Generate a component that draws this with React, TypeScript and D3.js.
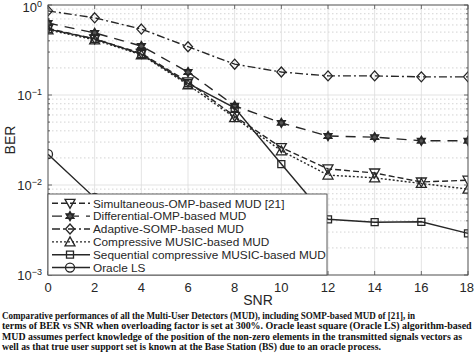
import { useEffect, useRef } from "react";
import * as d3 from "d3";

const snr = [0, 2, 4, 6, 8, 10, 12, 14, 16, 18];
const sompMud = [0.55, 0.42, 0.29, 0.14, 0.058, 0.026, 0.0151, 0.0136, 0.0108, 0.0113];
const diffOmpMud = [0.63, 0.49, 0.35, 0.18, 0.076, 0.049, 0.035, 0.034, 0.031, 0.031];
const adaptiveMud = [0.86, 0.72, 0.54, 0.344, 0.22, 0.18, 0.163, 0.163, 0.159, 0.159];
const cmusicMud = [0.53, 0.41, 0.28, 0.13, 0.056, 0.024, 0.0129, 0.012, 0.0104, 0.009];
const seqMud = [0.54, 0.42, 0.285, 0.135, 0.072, 0.0171, 0.00416, 0.00386, 0.0039, 0.0029];
const oracleLs = [0.022, 0.0072, 0.0006];

const xTicks = [0, 2, 4, 6, 8, 10, 12, 14, 16, 18];
const yExps = [0, -1, -2, -3];

const legendNames = [
  "Simultaneous-OMP-based MUD [21]",
  "Differential-OMP-based MUD",
  "Adaptive-SOMP-based MUD",
  "Compressive MUSIC-based MUD",
  "Sequential compressive MUSIC-based MUD",
  "Oracle LS",
];

const caption = [
  "Comparative performances of all the Multi-User Detectors (MUD), including SOMP-based MUD of [21], in",
  "terms of BER vs SNR when overloading factor is set at 300%. Oracle least square (Oracle LS) algorithm-based",
  "MUD assumes perfect knowledge of the position of the non-zero elements in the transmitted signals vectors as",
  "well as that true user support set is known at the Base Station (BS) due to an oracle process.",
];

type Marker = "tdown" | "hex" | "diamond" | "tup" | "square" | "circle";

const series: { values: number[]; dash: string; marker: Marker }[] = [
  { values: sompMud, dash: "6,3", marker: "tdown" },
  { values: diffOmpMud, dash: "10,7", marker: "hex" },
  { values: adaptiveMud, dash: "8,3,2,3", marker: "diamond" },
  { values: cmusicMud, dash: "2,2", marker: "tup" },
  { values: seqMud, dash: "", marker: "square" },
  { values: oracleLs, dash: "", marker: "circle" },
];

const INK = "#262626";

function drawMarker(g: any, m: Marker, cx: number, cy: number) {
  const s = g.append("path").attr("fill", "none").attr("stroke", INK).attr("stroke-width", 1.3);
  let d = "";
  if (m === "tdown") d = `M${cx - 5},${cy - 4}L${cx + 5},${cy - 4}L${cx},${cy + 5}Z`;
  else if (m === "tup") d = `M${cx - 5},${cy + 4}L${cx + 5},${cy + 4}L${cx},${cy - 5}Z`;
  else if (m === "diamond") d = `M${cx},${cy - 5}L${cx + 4.5},${cy}L${cx},${cy + 5}L${cx - 4.5},${cy}Z`;
  else if (m === "square") d = `M${cx - 3.5},${cy - 3.5}h7v7h-7Z`;
  else if (m === "circle") d = d3.arc()({ innerRadius: 0, outerRadius: 4.5, startAngle: 0, endAngle: 2 * Math.PI }) as string;
  else if (m === "hex") {
    const r = 4.6;
    const t1 = [0, 1, 2].map((i) => [cx + r * Math.sin((i * 2 * Math.PI) / 3), cy - r * Math.cos((i * 2 * Math.PI) / 3)]);
    const t2 = [0, 1, 2].map((i) => [cx + r * Math.sin((i * 2 * Math.PI) / 3 + Math.PI), cy - r * Math.cos((i * 2 * Math.PI) / 3 + Math.PI)]);
    d = `M${t1.map((p) => p.join(",")).join("L")}ZM${t2.map((p) => p.join(",")).join("L")}Z`;
    s.attr("fill", "#555");
  }
  s.attr("d", d);
  if (m === "circle") s.attr("transform", `translate(${cx},${cy})`);
}

export default function App() {
  const ref = useRef<SVGSVGElement>(null);

  useEffect(() => {
    const svg = d3.select(ref.current);
    svg.selectAll("*").remove();

    const left = 48, right = 468, top = 5, bottom = 275;
    const x = d3.scaleLinear().domain([0, 18]).range([left, right]);
    const y = d3.scaleLog().domain([1e-3, 1]).range([bottom, top]);
    const font = "Liberation Sans, Arial, sans-serif";

    svg.append("rect").attr("x", left).attr("y", top).attr("width", right - left).attr("height", bottom - top).attr("fill", "#fff");

    // minor y grid (dotted)
    const minors: number[] = [];
    yExps.slice(1).forEach((e) => {
      for (let k = 2; k <= 9; k++) minors.push(k * Math.pow(10, e));
    });
    svg.append("g").selectAll("line").data(minors).enter().append("line")
      .attr("x1", left).attr("x2", right).attr("y1", (d) => y(d)).attr("y2", (d) => y(d))
      .attr("stroke", "#c8c8c8").attr("stroke-width", 0.8).attr("stroke-dasharray", "1.5,2.5");
    // major grid
    svg.append("g").selectAll("line").data(yExps).enter().append("line")
      .attr("x1", left).attr("x2", right).attr("y1", (d) => y(Math.pow(10, d))).attr("y2", (d) => y(Math.pow(10, d)))
      .attr("stroke", "#dcdcdc").attr("stroke-width", 0.8);
    svg.append("g").selectAll("line").data(xTicks).enter().append("line")
      .attr("x1", (d) => x(d)).attr("x2", (d) => x(d)).attr("y1", top).attr("y2", bottom)
      .attr("stroke", "#dcdcdc").attr("stroke-width", 0.8);

    // clip
    svg.append("defs").append("clipPath").attr("id", "plotclip").append("rect")
      .attr("x", left).attr("y", top).attr("width", right - left).attr("height", bottom - top);
    const plot = svg.append("g").attr("clip-path", "url(#plotclip)");

    const line = d3.line<[number, number]>().x((d) => x(d[0])).y((d) => y(d[1]));
    series.forEach((s) => {
      const pts = s.values.map((v, i) => [snr[i], v] as [number, number]);
      plot.append("path").attr("d", line(pts) as string).attr("fill", "none")
        .attr("stroke", INK).attr("stroke-width", 1.4).attr("stroke-dasharray", s.dash || null);
      pts.forEach((p) => {
        if (p[1] >= 1e-3) drawMarker(plot, s.marker, x(p[0]), y(p[1]));
      });
    });

    // axes box & ticks
    svg.append("rect").attr("x", left).attr("y", top).attr("width", right - left).attr("height", bottom - top)
      .attr("fill", "none").attr("stroke", "#4d4d4d").attr("stroke-width", 0.9);
    const ticks = svg.append("g").attr("stroke", "#4d4d4d").attr("stroke-width", 0.8);
    xTicks.forEach((t) => {
      ticks.append("line").attr("x1", x(t)).attr("x2", x(t)).attr("y1", bottom).attr("y2", bottom - 4);
      ticks.append("line").attr("x1", x(t)).attr("x2", x(t)).attr("y1", top).attr("y2", top + 4);
    });
    yExps.forEach((e) => {
      const yy = y(Math.pow(10, e));
      ticks.append("line").attr("x1", left).attr("x2", left + 4).attr("y1", yy).attr("y2", yy);
      ticks.append("line").attr("x1", right).attr("x2", right - 4).attr("y1", yy).attr("y2", yy);
    });
    minors.forEach((m) => {
      ticks.append("line").attr("x1", left).attr("x2", left + 2).attr("y1", y(m)).attr("y2", y(m));
      ticks.append("line").attr("x1", right).attr("x2", right - 2).attr("y1", y(m)).attr("y2", y(m));
    });

    // tick labels
    svg.append("g").selectAll("text").data(xTicks).enter().append("text")
      .attr("x", (d) => x(d)).attr("y", 292).attr("text-anchor", (d) => (d === 18 ? "end" : "middle"))
      .attr("dx", (d) => (d === 18 ? 6 : 0))
      .attr("font-family", font).attr("font-size", 13).attr("fill", INK).text((d) => String(d));
    yExps.forEach((e) => {
      const yy = Math.max(y(Math.pow(10, e)), 7);
      const t = svg.append("text").attr("x", 42).attr("y", yy + 5).attr("text-anchor", "end")
        .attr("font-family", font).attr("font-size", 13).attr("fill", INK);
      t.append("tspan").text("10");
      t.append("tspan").attr("dy", -5).attr("font-size", 9).text(e === 0 ? "0" : `\u2212${-e}`);
    });

    svg.append("text").attr("x", 258).attr("y", 305).attr("text-anchor", "middle")
      .attr("font-family", font).attr("font-size", 14).attr("fill", INK).text("SNR");
    svg.append("text").attr("transform", "translate(15,140) rotate(-90)").attr("text-anchor", "middle")
      .attr("font-family", font).attr("font-size", 14).attr("fill", INK).text("BER");

    // legend
    const lg = svg.append("g");
    lg.append("rect").attr("x", left).attr("y", 194).attr("width", 279).attr("height", bottom - 194)
      .attr("fill", "#fff").attr("stroke", "#4d4d4d").attr("stroke-width", 0.9);
    series.forEach((s, i) => {
      const yy = 203.3 + i * 12.85;
      lg.append("line").attr("x1", 52).attr("x2", 90).attr("y1", yy).attr("y2", yy)
        .attr("stroke", INK).attr("stroke-width", 1.4).attr("stroke-dasharray", s.dash || null);
      drawMarker(lg, s.marker, 70, yy);
      lg.append("text").attr("x", 93).attr("y", yy + 4.3).attr("font-family", font).attr("font-size", 11.8)
        .attr("fill", INK).text(legendNames[i]);
    });

    // caption: squeeze each line horizontally to the width it has in the figure
    const capW = [413, 470, 460, 379];
    caption.forEach((c, i) => {
      const t = svg.append("text").attr("x", 0).attr("y", 0)
        .attr("font-family", "Liberation Serif, Times New Roman, serif").attr("font-weight", "bold")
        .attr("font-size", 11.2).attr("fill", "#111").text(c);
      const w = (t.node() as SVGTextElement).getComputedTextLength() || capW[i];
      t.attr("transform", `translate(2,${318.5 + i * 10.5}) scale(${capW[i] / w},1)`);
    });
  }, []);

  return (
    <svg ref={ref} width={474} height={361} style={{ position: "absolute", left: 0, top: 0, background: "#fff" }} />
  );
}
